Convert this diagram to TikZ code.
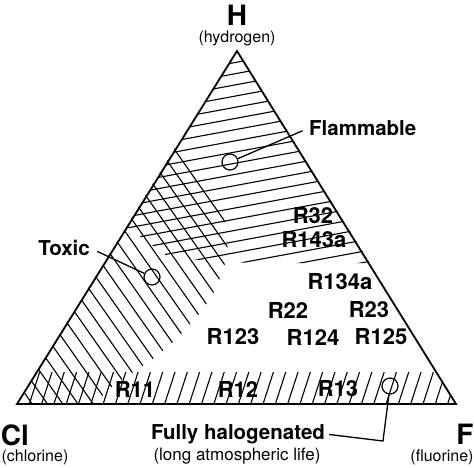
\documentclass[tikz,border=0pt]{standalone}
\usepackage{fontspec}
\setmainfont{TeX Gyre Heros}
\usetikzlibrary{calc,positioning}

\begin{document}
\begin{tikzpicture}[x=1pt, y=-1pt]
\tikzset{refnode/.style={font=\fontsize{22}{24}\selectfont\bfseries, inner sep=0},
cornerlab/.style={font=\fontsize{28}{30}\selectfont\bfseries, inner sep=0},
elemlab/.style={font=\fontsize{16}{18}\selectfont, inner sep=0},
zonelab/.style={font=\fontsize{20.5}{23}\selectfont\bfseries, inner sep=0},
marker/.style={circle, draw, line width=1.2pt, minimum size=16, inner sep=0},
hatch/.style={line width=1.1pt},
leader/.style={line width=1.3pt}}

\useasboundingbox (0,0) rectangle (474,467);

\coordinate (cl) at (17,404);
\coordinate (f) at (456,404);
\coordinate (h) at (237,51);

%% Hatching
% flammable
\begin{scope}
\clip (h) -- (370,263) -- (250,263) -- (170,258) -- (127,227) -- cycle;
\begin{scope}[shift={(h)}, rotate=10.5]
\foreach \k in {1,...,22} \draw[hatch] (-400,\k*11) -- (400,\k*11);
\end{scope}
\end{scope}
% toxic
\begin{scope}
\clip (176,146) -- (221,203) -- (228,235) -- (227,258) -- (220,278) -- (212,296)
  -- (200,313) -- (185,330) -- (168,347) -- (150,361) -- (135,371) -- (110,388)
  -- (95,404) -- (cl) -- cycle;
\begin{scope}[shift={(cl)}, rotate=-55]
\foreach \k in {1,...,22} \draw[hatch] (-400,-\k*12.5) -- (400,-\k*12.5);
\end{scope}
\end{scope}
% fully halogenated
\begin{scope}
\clip (37,372) -- (436,372) -- (f) -- (cl) -- cycle;
\begin{scope}[shift={(cl)}, rotate=72]
\foreach \k in {-2,...,38} \draw[hatch] (-400,\k*11.7) -- (400,\k*11.7);
\end{scope}
\end{scope}

%% Triangle
\draw[line width=1.8pt, line join=miter] (cl) -- (f) -- (h) -- cycle;

%% Corners
\node (hlab) [cornerlab] at (237,15) {H};
\node (hname) [elemlab] at (237,38) {(hydrogen)};
\node (cllab) [cornerlab] at (15,435) {Cl};
\node (clname) [elemlab] at (35,457) {(chlorine)};
\node (flab) [cornerlab] at (465,434) {F};
\node (fname) [elemlab] at (442,457) {(fluorine)};

%% Refrigerants
\foreach \u/\lab/\px/\py in {r32/R32/313/216, r143a/R143a/314/240, r134a/R134a/340/282,
  r22/R22/288/310, r23/R23/369/310, r123/R123/233/337, r124/R124/313/337,
  r125/R125/381/337, r11/R11/135/389, r12/R12/238/389, r13/R13/338/389}
  \node (\u) [refnode] at (\px,\py) {\lab};

%% Zones
\node (flamcirc) [marker] at (230,162) {};
\node (toxcirc) [marker] at (152,277) {};
\node (halocirc) [marker] at (390,386) {};
\node (flamlab) [zonelab, anchor=west] at (309,128) {Flammable};
\node (toxlab) [zonelab] at (64,248) {Toxic};
\node (halolab) [zonelab] at (238,434) {Fully halogenated};
\node (halonote) [font=\fontsize{17}{19}\selectfont, inner sep=0] at (237,456) {(long atmospheric life)};
\coordinate (halobend) at (383,441);

\draw[leader, shorten >=7pt] (flamcirc) -- (flamlab.west);
\draw[leader, shorten >=8pt] (toxcirc) -- (toxlab.east);
\draw[leader, shorten >=4pt] (halocirc) -- (halobend) -- (halolab.east);

\end{tikzpicture}
\end{document}
